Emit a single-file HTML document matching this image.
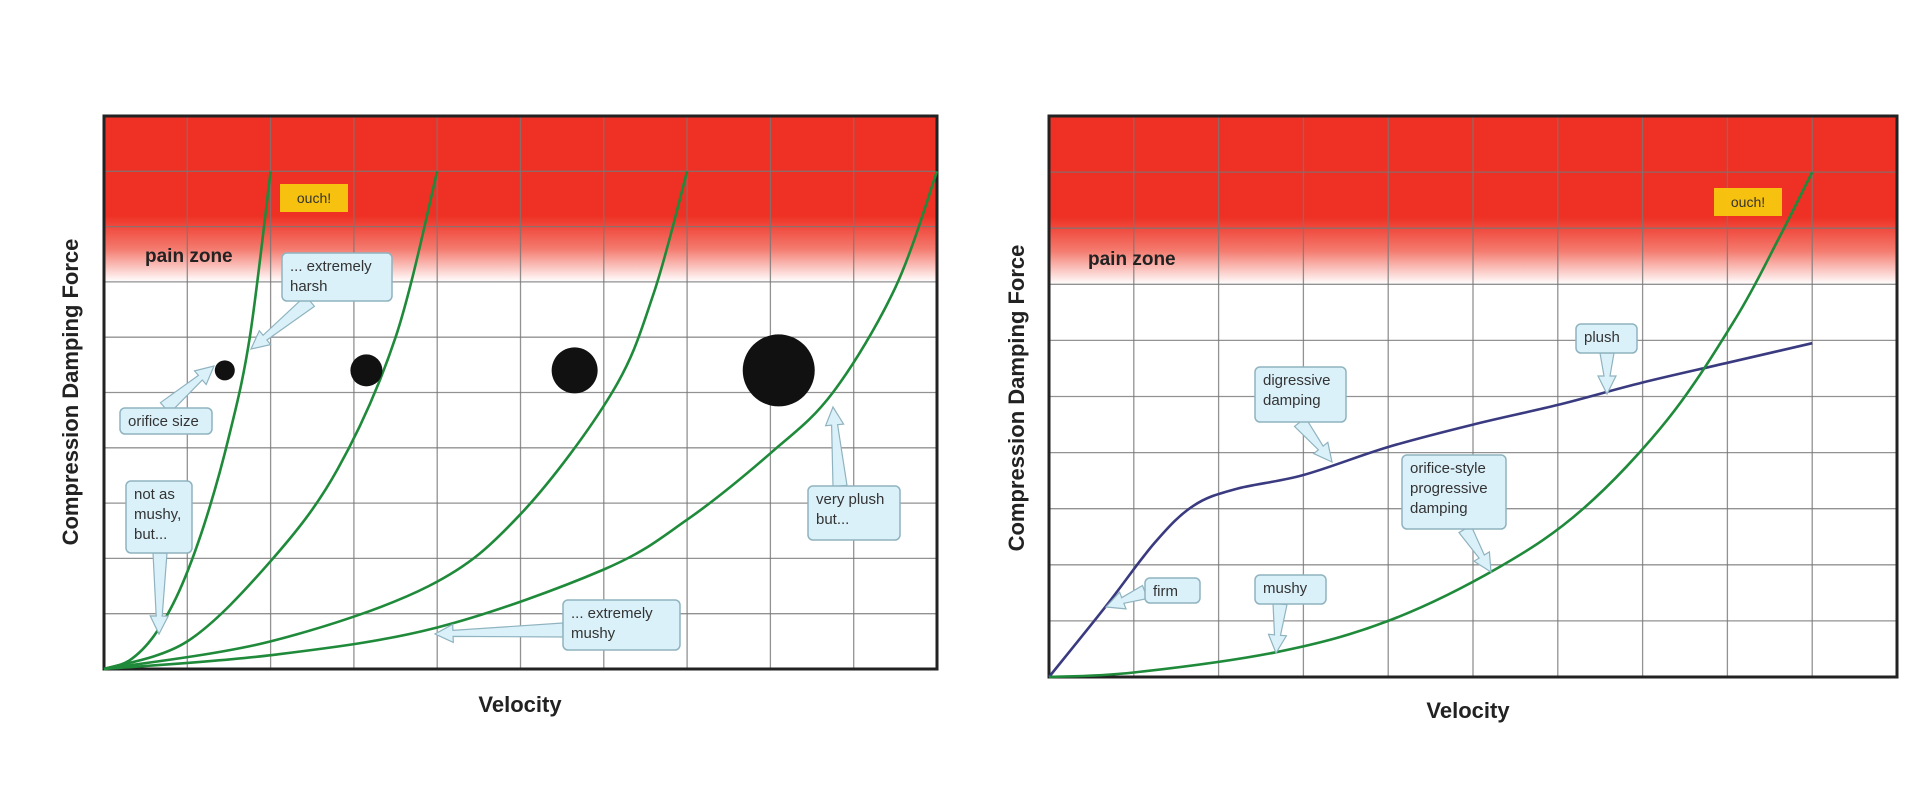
<!DOCTYPE html>
<html><head><meta charset="utf-8">
<style>
html,body{margin:0;padding:0;background:#fff;}
svg{display:block;}
text{font-family:"Liberation Sans Narrow","Liberation Sans",sans-serif;}
</style></head>
<body>
<svg id="svg" width="1920" height="800" viewBox="0 0 1920 800" xmlns="http://www.w3.org/2000/svg">
<defs>
<linearGradient id="painL" x1="0" y1="0" x2="0" y2="1">
<stop offset="0" stop-color="#ee3124"/><stop offset="0.6" stop-color="#ee3124"/><stop offset="0.8" stop-color="#f47a6e"/><stop offset="1" stop-color="#ffffff"/>
</linearGradient>
</defs>
</svg>
<script>
// ---- data (grid units: x 0..10, y 0..10) ----
const leftCurve1X = [0, 0.3, 0.6, 0.9, 1.2, 1.5, 1.75, 2];
const leftCurve1Y = [0, 0.15, 0.6, 1.4, 2.6, 4.2, 6, 9];
const leftCurve2X = [0, 1, 2, 2.8, 3.5, 4];
const leftCurve2Y = [0, 0.5, 1.95, 3.6, 6, 9];
const leftCurve3X = [0, 2, 3.9, 5, 6.1, 6.6, 7];
const leftCurve3Y = [0, 0.5, 1.5, 2.8, 5, 6.8, 9];
const leftCurve4X = [0, 2, 4, 6, 7, 8, 8.75, 9.5, 10];
const leftCurve4Y = [0, 0.25, 0.75, 1.8, 2.7, 3.9, 5, 6.9, 9];
const orificeX = [1.45, 3.15, 5.65, 8.1];
const orificeY = [5.4, 5.4, 5.4, 5.4];
const orificeSize = [1, 1.6, 2.3, 3.6];
const digressiveX = [0, 0.67, 1.25, 1.7, 2.2, 3.0, 4, 5, 6, 7, 8, 9];
const digressiveY = [0, 1.26, 2.4, 3.05, 3.35, 3.6, 4.1, 4.5, 4.85, 5.25, 5.6, 5.95];
const progressiveX = [0, 1, 2.7, 4, 5.3, 6.3, 7.3, 8.1, 8.6, 9];
const progressiveY = [0, 0.08, 0.45, 1.0, 1.95, 3.0, 4.6, 6.4, 7.8, 9];

const NS = "http://www.w3.org/2000/svg";
const svg = document.getElementById('svg');
function mk(tag, attrs, parent){const e=document.createElementNS(NS,tag);for(const k in attrs)e.setAttribute(k,attrs[k]);(parent||svg).appendChild(e);return e;}

const charts = {
  L:{x0:104,x1:937,y0:116,y1:669},
  R:{x0:1049,x1:1897,y0:116,y1:677}
};
function sx(c,v){return c.x0+(c.x1-c.x0)*v/10;}
function sy(c,v){return c.y1-(c.y1-c.y0)*v/10;}

function frame(c, id){
  const g = mk('g',{});
  
  
  const pain = mk('rect',{x:c.x0,y:c.y0,width:c.x1-c.x0,height:(c.y1-c.y0)*0.3,fill:'url(#painL)'},g);
  
  
  for(let i=1;i<10;i++){
    const vl = mk('line',{x1:sx(c,i),x2:sx(c,i),y1:c.y0,y2:c.y1,stroke:'#777','stroke-width':1.3,opacity:0.8},g);
    
    
    const hl = mk('line',{x1:c.x0,x2:c.x1,y1:sy(c,i),y2:sy(c,i),stroke:'#777','stroke-width':1.3,opacity:0.8},g);
    
    
  }
  const b = mk('rect',{x:c.x0,y:c.y0,width:c.x1-c.x0,height:c.y1-c.y0,fill:'none',stroke:'#222','stroke-width':3},g);
  
  
}
function curve(c, xs, ys, color, name){
  const P = xs.map((x,i)=>[sx(c,x), sy(c,ys[i])]);
  let d='M'+P[0][0].toFixed(1)+' '+P[0][1].toFixed(1);
  for(let i=0;i<P.length-1;i++){
    const p0=P[Math.max(0,i-1)], p1=P[i], p2=P[i+1], p3=P[Math.min(P.length-1,i+2)];
    const c1=[p1[0]+(p2[0]-p0[0])/6, p1[1]+(p2[1]-p0[1])/6];
    const c2=[p2[0]-(p3[0]-p1[0])/6, p2[1]-(p3[1]-p1[1])/6];
    d+=' C'+c1.map(v=>v.toFixed(1)).join(' ')+' '+c2.map(v=>v.toFixed(1)).join(' ')+' '+p2.map(v=>v.toFixed(1)).join(' ');
  }
  const p = mk('path',{d:d,fill:'none',stroke:color,'stroke-width':2.6,'stroke-linejoin':'round'});
  
  
}
function txt(x,y,s,size,name,anchor,rot,weight){
  const t = mk('text',{x:x,y:y,'font-size':size,'font-weight':weight||'bold',fill:'#222','text-anchor':anchor||'start'});
  if(rot) t.setAttribute('transform','rotate(-90 '+x+' '+y+')');
  t.textContent=s;
  
  
  return t;
}
function callout(x,y,w,h,lines,tipX,tipY,bx,by,name){
  const g = mk('g',{});
  
  
  if(tipX!==null){
    const dx=tipX-bx, dy=tipY-by, L=Math.hypot(dx,dy), ux=dx/L, uy=dy/L, px=-uy, py=ux;
    const hx=tipX-ux*18, hy=tipY-uy*18;
    const pts=[[bx+px*7,by+py*7],[hx+px*3,hy+py*3],[hx+px*9,hy+py*9],[tipX,tipY],[hx-px*9,hy-py*9],[hx-px*3,hy-py*3],[bx-px*7,by-py*7]];
    mk('polygon',{points:pts.map(p=>p[0].toFixed(1)+','+p[1].toFixed(1)).join(' '),fill:'#dbf1fa',stroke:'#8fb3bf','stroke-width':1.2},g);
  }
  mk('rect',{x:x,y:y,width:w,height:h,rx:5,fill:'#dbf1fa',stroke:'#8fb3bf','stroke-width':1.5},g);
  lines.forEach((s,i)=>{
    const t=mk('text',{x:x+8,y:y+18+i*20,'font-size':15,fill:'#333'},g);
    t.textContent=s;
  });
}
function ouch(x,y,name){
  const g = mk('g',{});
  
  
  mk('rect',{x:x,y:y,width:68,height:28,fill:'#f7c10f'},g);
  const t=mk('text',{x:x+34,y:y+19,'font-size':14,fill:'#333','text-anchor':'middle'},g);
  t.textContent='ouch!';
}

// LEFT chart
const L=charts.L;
frame(L,'left');
curve(L,leftCurve1X,leftCurve1Y,'#1e8a3a','left-curve-small-orifice');
curve(L,leftCurve2X,leftCurve2Y,'#1e8a3a','left-curve-medium-orifice');
curve(L,leftCurve3X,leftCurve3Y,'#1e8a3a','left-curve-large-orifice');
curve(L,leftCurve4X,leftCurve4Y,'#1e8a3a','left-curve-xl-orifice');
orificeX.forEach((x,i)=>{
  const c = mk('circle',{cx:sx(L,x),cy:sy(L,orificeY[i]),r:10*orificeSize[i],fill:'#111'});
  
  
});
txt(145,262,'pain zone',19,'left-pain-zone-label');
ouch(280,184,'left-ouch-label');
callout(282,253,110,48,['... extremely','harsh'],251,349,310,301,'callout-extremely-harsh');
callout(120,408,92,26,['orifice size'],214,366,165,408,'callout-orifice-size');
callout(126,481,66,72,['not as','mushy,','but...'],159,634,160,553,'callout-not-as-mushy');
callout(808,486,92,54,['very plush','but...'],833,407,840,486,'callout-very-plush');
callout(563,600,117,50,['... extremely','mushy'],435,634,563,630,'callout-extremely-mushy');
txt(78,392,'Compression Damping Force',22,'left-y-axis-title','middle',true);
txt(520,712,'Velocity',22,'left-x-axis-title','middle');

// RIGHT chart
const R=charts.R;
frame(R,'right');
curve(R,digressiveX,digressiveY,'#3a3a80','digressive-damping-line');
curve(R,progressiveX,progressiveY,'#1e8a3a','progressive-damping-curve');
txt(1088,265,'pain zone',19,'right-pain-zone-label');
ouch(1714,188,'right-ouch-label');
callout(1576,324,61,29,['plush'],1607,394,1607,353,'callout-plush');
callout(1255,367,91,55,['digressive','damping'],1332,462,1300,422,'callout-digressive');
callout(1402,455,104,74,['orifice-style','progressive','damping'],1491,572,1465,529,'callout-orifice-style');
callout(1145,578,55,25,['firm'],1106,607,1145,592,'callout-firm');
callout(1255,575,71,29,['mushy'],1276,653,1280,604,'callout-mushy');
txt(1024,398,'Compression Damping Force',22,'right-y-axis-title','middle',true);
txt(1468,718,'Velocity',22,'right-x-axis-title','middle');
</script>
</body></html>
